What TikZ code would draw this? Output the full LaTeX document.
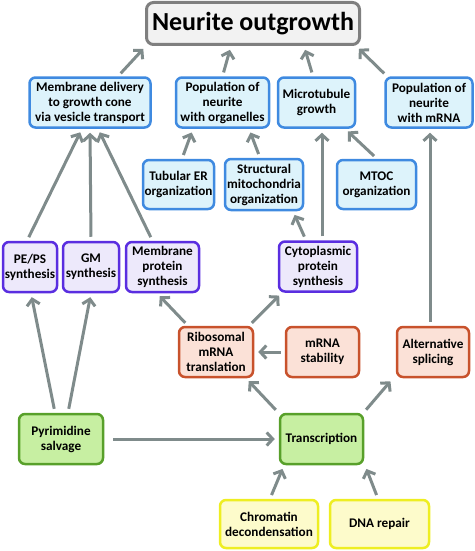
\documentclass[tikz,border=0pt]{standalone}
\usepackage{fontspec}
\setmainfont{Carlito}
\usetikzlibrary{arrows.meta,calc}
\definecolor{arrowgray}{HTML}{7F8B8B}
\definecolor{titlebd}{HTML}{7F7F7F}
\definecolor{titlefill}{HTML}{F2F2F2}
\definecolor{bluebd}{HTML}{3F8AE0}
\definecolor{bluefill}{HTML}{DDF3FB}
\definecolor{purpbd}{HTML}{5A2EE0}
\definecolor{purpfill}{HTML}{EDE9FB}
\definecolor{orangebd}{HTML}{C8522C}
\definecolor{orangefill}{HTML}{FBE1D7}
\definecolor{greenbd}{HTML}{58A02A}
\definecolor{greenfill}{HTML}{C7EFA2}
\definecolor{yellowbd}{HTML}{EEEE22}
\definecolor{yellowfill}{HTML}{FDFBCB}
\tikzset{
  box/.style={draw, line width=2.5pt, rounded corners=6pt, align=center, inner sep=0pt,
    font=\bfseries\fontsize{13.2}{15}\selectfont, minimum height=50pt},
  bluebox/.style={box, draw=bluebd, fill=bluefill},
  purpbox/.style={box, draw=purpbd, fill=purpfill},
  orangebox/.style={box, draw=orangebd, fill=orangefill},
  greenbox/.style={box, draw=greenbd, fill=greenfill},
  yellowbox/.style={box, draw=yellowbd, fill=yellowfill},
  titlebox/.style={draw=titlebd, fill=titlefill, line width=3pt, rounded corners=7pt, inner sep=0pt,
    font=\bfseries\fontsize{26}{30}\selectfont, minimum width=213pt, minimum height=42pt},
  arr/.style={draw=arrowgray, line width=3pt, -{Straight Barb[length=6pt,width=13pt,line width=3pt]},
    shorten <=4pt, shorten >=4pt}
}
\begin{document}
\begin{tikzpicture}[x=1pt,y=-1pt]
\useasboundingbox (0,0) rectangle (474,551);
\node[titlebox] (title) at (253,23.5) {Neurite outgrowth};
\node[bluebox, minimum width=121pt] (md) at (90,102.5) {Membrane delivery\\to growth cone\\via vesicle transport};
\node[bluebox, minimum width=93pt] (po) at (222.5,102.5) {Population of\\neurite\\with organelles};
\node[bluebox, minimum width=77pt] (mt) at (316.5,102.5) {Microtubule\\growth};
\node[bluebox, minimum width=87pt] (pm) at (429,102.5) {Population of\\neurite\\with mRNA};
\node[bluebox, minimum width=71pt, minimum height=49pt] (ter) at (178.5,184.5) {Tubular ER\\organization};
\node[bluebox, minimum width=78pt, minimum height=51pt] (smo) at (264,184.5) {Structural\\mitochondria\\organization};
\node[bluebox, minimum width=79pt, minimum height=49pt] (mtoc) at (376.5,184.5) {MTOC\\organization};
\node[purpbox, minimum width=54pt] (pe) at (30,267) {PE/PS\\synthesis};
\node[purpbox, minimum width=56pt] (gm) at (91,267) {GM\\synthesis};
\node[purpbox, minimum width=73pt] (mp) at (162.5,267) {Membrane\\protein\\synthesis};
\node[purpbox, minimum width=78pt] (cps) at (318,266.5) {Cytoplasmic\\protein\\synthesis};
\node[orangebox, minimum width=74pt] (rmt) at (216,352) {Ribosomal\\mRNA\\translation};
\node[orangebox, minimum width=73pt] (ms) at (322.5,352) {mRNA\\stability};
\node[orangebox, minimum width=72pt] (as) at (433,352) {Alternative\\splicing};
\node[greenbox, minimum width=84pt] (py) at (61,439) {Pyrimidine\\salvage};
\node[greenbox, minimum width=83pt] (tr) at (321.5,439) {Transcription};
\node[yellowbox, minimum width=98pt, minimum height=48pt] (cd) at (269,524) {Chromatin\\decondensation};
\node[yellowbox, minimum width=99pt, minimum height=48pt] (dna) at (379.5,524) {DNA repair};
% arrows to title
\draw[arr] ([xshift=28pt]md.north) -- ([xshift=-107pt]title.south);
\draw[arr] (po.north) -- ([xshift=-22pt]title.south);
\draw[arr] ([xshift=-3.5pt]mt.north) -- ([xshift=51pt]title.south);
\draw[arr] ([xshift=-42pt]pm.north) -- ([xshift=103pt]title.south);
% into membrane delivery
\draw[arr] ([xshift=-3pt]pe.north) -- ([xshift=-8pt]md.south);
\draw[arr] (gm.north) -- (md.south);
\draw[arr] ([xshift=-10pt]mp.north) -- ([xshift=8pt]md.south);
% into population organelles
\draw[arr] ([xshift=3.5pt]ter.north) -- ([xshift=-29.5pt]po.south);
\draw[arr] ([xshift=-4pt]smo.north) -- ([xshift=26.5pt]po.south);
% into microtubule
\draw[arr] ([xshift=4pt]cps.north) -- ([xshift=5.5pt]mt.south);
\draw[arr] ([xshift=0.5pt]mtoc.north) -- ([xshift=28.5pt]mt.south);
% cytoplasmic -> structural
\draw[arr] ([xshift=-12pt]cps.north) -- ([xshift=29pt]smo.south);
% alternative splicing -> population mRNA
\draw[arr] ([xshift=-3pt]as.north) -- ([xshift=1pt]pm.south);
% ribosomal
\draw[arr] ([xshift=-28pt]rmt.north) -- ([xshift=-5.5pt]mp.south);
\draw[arr] ([xshift=33pt]rmt.north) -- ([xshift=-36pt]cps.south);
\draw[arr] (ms.west) -- (rmt.east);
% transcription
\draw[arr] ([xshift=-43pt]tr.north) -- ([xshift=30pt]rmt.south);
\draw[arr] ([xshift=42pt]tr.north) -- ([xshift=-40pt]as.south);
% pyrimidine
\draw[arr] ([xshift=-6pt]py.north) -- ([xshift=1pt]pe.south);
\draw[arr] ([xshift=7pt]py.north) -- (gm.south);
\draw[arr, shorten <=9pt] (py.east) -- (tr.west);
% bottom
\draw[arr] ([xshift=1pt]cd.north) -- ([xshift=-37.5pt]tr.south);
\draw[arr] ([xshift=-1.5pt]dna.north) -- ([xshift=43.5pt]tr.south);
\end{tikzpicture}
\end{document}
